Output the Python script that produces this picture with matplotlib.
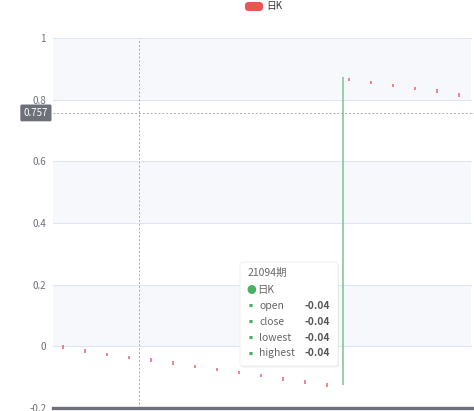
import matplotlib
matplotlib.use("Agg")
import matplotlib.pyplot as plt
from matplotlib.patches import FancyBboxPatch

plt.rcParams['font.family'] = ['Noto Sans CJK SC', 'DejaVu Sans']

# candle data (x position, low, high) - tiny doji-like candles
xs = [0, 1, 2, 3, 4, 5, 6, 7, 8, 9, 10, 11, 12, 13, 14, 15, 16, 17, 18]
lows = [-0.009, -0.021, -0.032, -0.042, -0.051, -0.061, -0.071, -0.081, -0.091, -0.101,
        -0.111, -0.121, -0.131, 0.859, 0.850, 0.840, 0.830, 0.821, 0.810]
highs = [0.003, -0.009, -0.020, -0.030, -0.039, -0.049, -0.059, -0.069, -0.079, -0.089,
         -0.099, -0.109, -0.119, 0.871, 0.862, 0.852, 0.842, 0.833, 0.822]
green_x = [12.72]
green_low = [-0.126]
green_high = [0.872]

yticks = [-0.2, 0, 0.2, 0.4, 0.6, 0.8, 1]
ytick_labels = ['-0.2', '0', '0.2', '0.4', '0.6', '0.8', '1']
cross_x = 3.455
cross_y = 0.757

tip_title = '21094期'
tip_series = '日K'
tip_rows = ['open', 'close', 'lowest', 'highest']
tip_vals = ['-0.04', '-0.04', '-0.04', '-0.04']

W, H = 474, 411
fig = plt.figure(figsize=(W / 100, H / 100), dpi=100)
ax = fig.add_axes([53 / W, 3 / H, (W - 53) / W, 370 / H])
ax.set_xlim(-10 / 22, (W - 63) / 22)
ax.set_ylim(-0.2, 1)

def px(x, y):
    return x / W, 1 - y / H

# split areas + grid
band_end = (471 - 53) / (W - 53)
for lo, hi in [(0.8, 1), (0.4, 0.6), (0, 0.2)]:
    ax.axhspan(lo, hi, xmax=band_end, color='#f6f8fc', lw=0, zorder=0)
for t in yticks[1:]:
    ax.axhline(t, xmax=band_end, color='#e0e6f1', lw=0.8, zorder=1)

for s in ['top', 'right', 'left']:
    ax.spines[s].set_visible(False)
ax.spines['bottom'].set_color('#6e7079')
ax.spines['bottom'].set_linewidth(2.4)
ax.set_xticks([])
ax.set_yticks(yticks)
ax.set_yticklabels(ytick_labels)
ax.tick_params(axis='y', length=0, pad=5, labelsize=7, labelcolor='#6e7079')

# candles
ax.vlines(xs, lows, highs, color='#e8646f', lw=1.1, zorder=3)
ax.vlines(green_x, green_low, green_high, color='#7cc48e', lw=1.1, zorder=3)

# crosshair
ax.axvline(cross_x, color='#aaaaaa', lw=0.7, ls=(0, (2, 2)), zorder=2)
ax.axhline(cross_y, color='#aaaaaa', lw=0.7, ls=(0, (2, 2)), zorder=2)
ax.annotate(f'{cross_y:.3f}', xy=(0, cross_y), xycoords=('axes fraction', 'data'),
            xytext=(-12.3, 0), textcoords='offset points', ha='center', va='center',
            fontsize=7, color='white', annotation_clip=False,
            bbox=dict(boxstyle='round,pad=0.35,rounding_size=0.15', fc='#6e7079', ec='none'))

# legend
x0, y0 = px(245, 11)
fig.patches.append(FancyBboxPatch((x0, y0), 18 / W, 9 / H, boxstyle='round,pad=0,rounding_size=0.008',
                                  transform=fig.transFigure, fc='#eb5454', ec='none'))
fig.text(*px(266, 6.5), '日K', fontsize=7, color='#333333', va='center', ha='left')

# tooltip
bx, by = px(240, 366)
fig.patches.append(FancyBboxPatch((bx + 1 / W, by - 1.5 / H), 98 / W, 104 / H,
                                  boxstyle='round,pad=0,rounding_size=0.006',
                                  transform=fig.transFigure, fc='#00000012', ec='none', zorder=5))
fig.patches.append(FancyBboxPatch((bx, by), 98 / W, 104 / H, boxstyle='round,pad=0,rounding_size=0.006',
                                  transform=fig.transFigure, fc='white', ec='#eeeeee', lw=0.6, zorder=6))
fig.text(*px(248, 273), tip_title, fontsize=7.5, color='#666666', va='center', zorder=7)
fig.text(*px(251, 289.5), '●', fontsize=7, color='#47b262', ha='center', va='center', zorder=7)
fig.text(*px(257, 289.5), tip_series, fontsize=7.5, color='#666666', va='center', zorder=7)
for i, (lab, val) in enumerate(zip(tip_rows, tip_vals)):
    yy = 306 + i * 15.8
    fig.text(*px(251, yy), '■', fontsize=2.8, color='#47b262', ha='center', va='center', zorder=7)
    fig.text(*px(259, yy), lab, fontsize=7.5, color='#666666', va='center', zorder=7)
    fig.text(*px(330, yy), val, fontsize=7.3, color='#555555', va='center', ha='right',
             fontweight='bold', zorder=7)

fig.savefig('out.png', dpi=100)
